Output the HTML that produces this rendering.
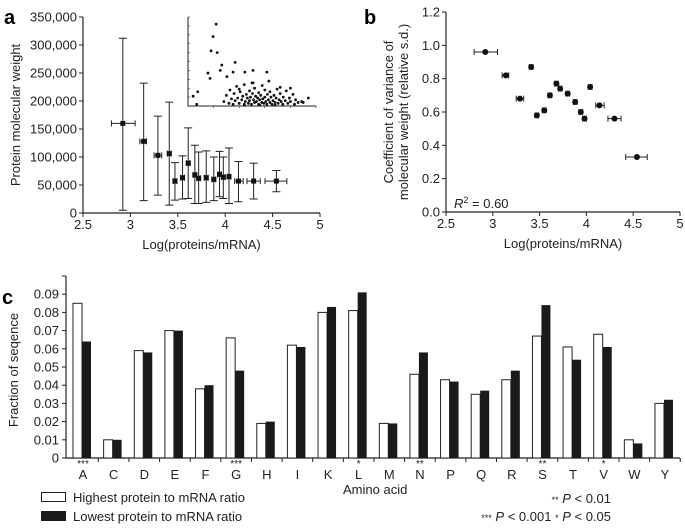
<!DOCTYPE html>
<html><head><meta charset="utf-8"><style>
body{margin:0;background:#fff}
svg{display:block;font-family:"Liberation Sans",sans-serif}
</style></head><body>
<svg id="fig" width="685" height="531" viewBox="0 0 685 531">
<g id="pa"></g>
<g id="pb"></g>
<g id="pc"></g>
</svg>
<script>
// Panel a data
const aX=[2.92,3.14,3.29,3.41,3.47,3.55,3.61,3.68,3.72,3.80,3.88,3.94,3.98,4.04,4.14,4.30,4.54];
const aXlo=[2.80,3.10,3.25,3.39,3.45,3.53,3.59,3.66,3.70,3.78,3.86,3.92,3.96,4.02,4.10,4.23,4.42];
const aXhi=[3.05,3.17,3.33,3.43,3.49,3.57,3.63,3.70,3.74,3.82,3.90,3.96,4.00,4.06,4.19,4.37,4.65];
const aY=[160000,128000,103000,106000,57000,63000,89000,68000,62000,63000,60000,69000,64000,65000,57000,57000,57000];
const aYlo=[5000,22000,32000,14000,23000,25000,26000,17000,17000,19000,22000,29000,26000,17000,20000,25000,38000];
const aYhi=[312000,232000,173000,198000,90000,102000,152000,121000,109000,111000,100000,110000,100000,116000,92000,89000,76000];
const aYTicks=[0,50000,100000,150000,200000,250000,300000,350000];
const xTicks=[2.5,3,3.5,4,4.5,5];
const insetX=[3.05,2.99,2.95,3.07,3.16,3.42,2.89,2.93,3.13,3.26,3.38,3.61,3.77,4.04,3.77,2.6,2.67,2.69,3.2,3.25,3.3,3.32,3.35,3.38,3.4,3.42,3.45,3.47,3.5,3.52,3.55,3.57,3.6,3.6,3.62,3.64,3.66,3.68,3.7,3.7,3.72,3.74,3.76,3.78,3.8,3.8,3.82,3.84,3.86,3.88,3.88,3.9,3.92,3.94,3.95,3.96,3.98,4.0,4.0,4.02,4.04,4.05,4.07,4.1,4.1,4.12,4.14,4.16,4.18,4.2,4.22,4.24,4.26,4.28,4.3,4.32,4.35,4.36,4.4,4.42,4.45,4.48,4.5,4.55,4.58,4.6,4.65,4.72,4.75,4.85,3.6,3.9,4.2,3.5,3.75,4.08,4.3,4.5];
const insetY=[9.2,7.8,6.2,6.0,4.6,4.9,3.7,3.1,4.0,3.3,3.8,3.8,4.0,3.8,2.6,1.1,0.2,1.6,0.5,1.2,0.3,1.8,0.8,0.2,1.4,0.6,2.2,0.9,0.3,1.6,0.7,1.1,0.2,2.4,0.5,1.3,0.9,0.3,1.7,0.6,1.0,0.2,1.4,0.7,0.4,2.0,1.1,0.5,0.9,0.2,1.5,0.7,1.2,0.4,2.3,0.8,0.3,1.0,1.8,0.5,0.2,1.3,0.7,0.4,1.6,1.0,0.2,0.6,1.2,0.4,0.9,1.9,0.3,0.7,1.4,0.5,0.2,1.0,0.6,1.7,0.3,0.9,0.5,1.3,0.2,0.7,0.4,0.5,0.4,0.9,0.1,0.1,0.1,1.9,2.6,2.8,2.1,2.0];
// Panel b data
const bCV=[0.96,0.82,0.68,0.87,0.58,0.61,0.70,0.77,0.74,0.71,0.66,0.60,0.56,0.75,0.64,0.56,0.33];
const bYTicks=[0,0.2,0.4,0.6,0.8,1.0,1.2];
const bYLabels=["0.0","0.2","0.4","0.6","0.8","1.0","1.2"];
// Panel c data
const aminos=["A","C","D","E","F","G","H","I","K","L","M","N","P","Q","R","S","T","V","W","Y"];
const highVals=[0.085,0.010,0.059,0.070,0.038,0.066,0.019,0.062,0.080,0.081,0.019,0.046,0.043,0.035,0.043,0.067,0.061,0.068,0.010,0.030];
const lowVals=[0.064,0.010,0.058,0.070,0.040,0.048,0.020,0.061,0.083,0.091,0.019,0.058,0.042,0.037,0.048,0.084,0.054,0.061,0.008,0.032];
const stars=["***","","","","","***","","","","*","","**","","","","**","","*","",""];
const cYTicks=[0,0.01,0.02,0.03,0.04,0.05,0.06,0.07,0.08,0.09];
const cYLabels=["0","0.01","0.02","0.03","0.04","0.05","0.06","0.07","0.08","0.09"];

const NS="http://www.w3.org/2000/svg";
function mk(p,tag,at,txt){const e=document.createElementNS(NS,tag);for(const k in at)e.setAttribute(k,at[k]);if(txt!==undefined)e.textContent=txt;p.appendChild(e);return e;}
const S={stroke:"#222","stroke-width":1.2,fill:"none"};

// ---- Panel a
const pa=document.getElementById('pa');
const xa=v=>83+(v-2.5)*94.8, ya=v=>213-v/350000*196;
let t=mk(pa,'text',{x:4,y:24,'font-size':20,'font-weight':'bold'},'a');


let l=mk(pa,'path',Object.assign({d:`M83,17V213H${xa(5)}`},S));


aYTicks.forEach(v=>{const y=ya(v);mk(pa,'line',{x1:79,x2:83,y1:y,y2:y,stroke:'#222'});
 const tt=mk(pa,'text',{x:77,y:y+4.5,'font-size':13,'text-anchor':'end',fill:'#222'},v.toLocaleString('en-US'));
 
 });
xTicks.forEach(v=>{const x=xa(v);mk(pa,'line',{x1:x,x2:x,y1:213,y2:217,stroke:'#222'});
 const tt=mk(pa,'text',{x:x,y:229,'font-size':13,'text-anchor':'middle',fill:'#222'},String(v));
 
 });
t=mk(pa,'text',{x:0,y:0,'font-size':13,'text-anchor':'middle',fill:'#222',transform:'translate(20,115) rotate(-90)'},'Protein molecular weight');


t=mk(pa,'text',{x:xa(3.75),y:249,'font-size':13,'text-anchor':'middle',fill:'#222'},'Log(proteins/mRNA)');


aX.forEach((v,i)=>{const g=mk(pa,'g',{});
 
 
 const x=xa(v),y=ya(aY[i]),y1=ya(aYlo[i]),y2=ya(aYhi[i]),x1=xa(aXlo[i]),x2=xa(aXhi[i]);
 mk(g,'path',{d:`M${x},${y1}V${y2}M${x-4},${y1}H${x+4}M${x-4},${y2}H${x+4}M${x1},${y}H${x2}M${x1},${y-3}V${y+3}M${x2},${y-3}V${y+3}`,stroke:'#222','stroke-width':1,fill:'none'});
 mk(g,'rect',{x:x-2.5,y:y-2.5,width:5,height:5,fill:'#111'});});
// inset
const xi=v=>188+(v-2.5)*51.2, yi=v=>106-v*8.9;
l=mk(pa,'path',{d:'M188,17V106H316',stroke:'#222','stroke-width':1,fill:'none'});


for(let k=1;k<=10;k++){mk(pa,'line',{x1:188,x2:190,y1:106-k*8.9,y2:106-k*8.9,stroke:'#222','stroke-width':0.6});}
for(let k=1;k<=5;k++){const x=xi(2.5+k*0.5);mk(pa,'line',{x1:x,x2:x,y1:106,y2:108,stroke:'#222','stroke-width':0.6});}
insetX.forEach((v,i)=>{const c=mk(pa,'circle',{cx:xi(v),cy:yi(insetY[i]),r:1.4,fill:'#111'});
 
 });

// ---- Panel b
const pb=document.getElementById('pb');
const xb=v=>446+(v-2.5)*93.6, yb=v=>212-v/1.2*200;
t=mk(pb,'text',{x:364,y:24,'font-size':20,'font-weight':'bold'},'b');


l=mk(pb,'path',Object.assign({d:`M446,12V212H${xb(5)}`},S));


bYTicks.forEach((v,i)=>{const y=yb(v);mk(pb,'line',{x1:442,x2:446,y1:y,y2:y,stroke:'#222'});
 const tt=mk(pb,'text',{x:440,y:y+4.5,'font-size':13,'text-anchor':'end',fill:'#222'},bYLabels[i]);
 
 });
xTicks.forEach(v=>{const x=xb(v);mk(pb,'line',{x1:x,x2:x,y1:212,y2:216,stroke:'#222'});
 const tt=mk(pb,'text',{x:x,y:228,'font-size':13,'text-anchor':'middle',fill:'#222'},String(v));
 
 });
t=mk(pb,'text',{x:0,y:0,'font-size':13,'text-anchor':'middle',fill:'#222',transform:'translate(393,112) rotate(-90)'},'Coefficient of variance of');


t=mk(pb,'text',{x:0,y:0,'font-size':13,'text-anchor':'middle',fill:'#222',transform:'translate(408,112) rotate(-90)'},'molecular weight (relative s.d.)');


t=mk(pb,'text',{x:xb(3.75),y:248,'font-size':13,'text-anchor':'middle',fill:'#222'},'Log(proteins/mRNA)');


t=mk(pb,'text',{x:454,y:208,'font-size':13,fill:'#222'});
t.innerHTML='<tspan font-style="italic">R</tspan><tspan dy="-5" font-size="9">2</tspan><tspan dy="5"> = 0.60</tspan>';


aX.forEach((v,i)=>{const g=mk(pb,'g',{});
 
 
 const x=xb(v),y=yb(bCV[i]),x1=xb(aXlo[i]),x2=xb(aXhi[i]);
 mk(g,'path',{d:`M${x1},${y}H${x2}M${x1},${y-3}V${y+3}M${x2},${y-3}V${y+3}`,stroke:'#222','stroke-width':1,fill:'none'});
 mk(g,'circle',{cx:x,cy:y,r:3,fill:'#111'});});

// ---- Panel c
const pc=document.getElementById('pc');
const yc=v=>458-v*1820, cx=i=>83+i*30.63;
t=mk(pc,'text',{x:2,y:304,'font-size':20,'font-weight':'bold'},'c');


l=mk(pc,'path',Object.assign({d:`M66,276V458H680`},S));


cYTicks.forEach((v,i)=>{const y=yc(v);mk(pc,'line',{x1:62,x2:66,y1:y,y2:y,stroke:'#222'});
 const tt=mk(pc,'text',{x:59,y:y+4.5,'font-size':13,'text-anchor':'end',fill:'#222'},cYLabels[i]);
 
 });
mk(pc,'line',{x1:62,x2:66,y1:yc(0.1),y2:yc(0.1),stroke:'#222'});
t=mk(pc,'text',{x:0,y:0,'font-size':13,'text-anchor':'middle',fill:'#222',transform:'translate(18,370) rotate(-90)'},'Fraction of seqence');


aminos.forEach((a,i)=>{const c=cx(i);
 mk(pc,'line',{x1:c+15.3,x2:c+15.3,y1:458,y2:462,stroke:'#222'});
 const w=mk(pc,'rect',{x:c-10,y:yc(highVals[i]),width:9,height:458-yc(highVals[i]),fill:'#fff',stroke:'#222','stroke-width':1});
 
 
 const b=mk(pc,'rect',{x:c-1,y:yc(lowVals[i]),width:9,height:458-yc(lowVals[i]),fill:'#1a1a1a'});
 
 
 const tt=mk(pc,'text',{x:c,y:479,'font-size':13,'text-anchor':'middle',fill:'#222'},a);
 
 
 if(stars[i]){const s=mk(pc,'text',{x:c,y:467,'font-size':10,'text-anchor':'middle',fill:'#222'},stars[i]);
 
 }});
t=mk(pc,'text',{x:343,y:494,'font-size':13,fill:'#222'},'Amino acid');


let lg=mk(pc,'rect',{x:41.5,y:492.5,width:24,height:9,fill:'#fff',stroke:'#222','stroke-width':1});


t=mk(pc,'text',{x:73,y:502,'font-size':13,fill:'#222'},'Highest protein to mRNA ratio');


lg=mk(pc,'rect',{x:41,y:511,width:25,height:10,fill:'#1a1a1a'});


t=mk(pc,'text',{x:73,y:521,'font-size':13,fill:'#222'},'Lowest protein to mRNA ratio');


t=mk(pc,'text',{x:611,y:503,'font-size':13,fill:'#222','text-anchor':'end'});
t.innerHTML='<tspan font-size="9">**</tspan> <tspan font-style="italic">P</tspan> &lt; 0.01';


t=mk(pc,'text',{x:611,y:521,'font-size':13,fill:'#222','text-anchor':'end'});
t.innerHTML='<tspan font-size="9">***</tspan> <tspan font-style="italic">P</tspan> &lt; 0.001  <tspan font-size="9">*</tspan> <tspan font-style="italic">P</tspan> &lt; 0.05';


</script>
</body></html>
